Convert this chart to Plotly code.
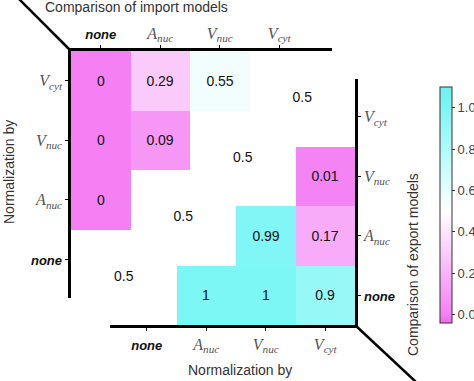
import plotly.graph_objects as go

# ---------------- data ----------------
categories = ["none", "A_nuc", "V_nuc", "V_cyt"]
tick_labels = [
    '<span style="font-family:Liberation Sans;font-weight:bold;font-size:13px;color:#111"><i>none</i></span>',
    "<i>A</i><sub><i>nuc</i></sub>",
    "<i>V</i><sub><i>nuc</i></sub>",
    "<i>V</i><sub><i>cyt</i></sub>",
]
# Import models (upper-left triangle); rows index: none, A_nuc, V_nuc, V_cyt
import_values = [
    [None, None, None, None],
    [0, None, None, None],
    [0, 0.09, None, None],
    [0, 0.29, 0.55, None],
]
# Export models (lower-right triangle)
export_values = [
    [None, 1, 1, 0.9],
    [None, None, 0.99, 0.17],
    [None, None, None, 0.01],
    [None, None, None, None],
]
diagonal_values = [0.5, 0.5, 0.5, 0.5]
colorbar_ticks = [0.0, 0.2, 0.4, 0.6, 0.8, 1.0]

# ---------------- layout helpers ----------------
W, H = 474, 381
CELL = 59.5
def dx(a, b):
    return [a / W, b / W]
def dy(top, bottom):
    return [1 - bottom / H, 1 - top / H]

idx = list(range(len(categories)))

def txt(z):
    return [["" if v is None else f"{v:g}" for v in row] for row in z]

cmin, cmax = -0.04, 1.1
def pos(v):
    return (v - cmin) / (cmax - cmin)
colorscale = [
    [0.0, "rgb(238,105,238)"],
    [pos(0.0), "rgb(244,128,244)"],
    [pos(0.5), "rgb(255,255,255)"],
    [pos(1.0), "rgb(125,246,246)"],
    [1.0, "rgb(112,240,240)"],
]

CELL_FONT = dict(family="Liberation Sans, Arial", size=14, color="#111")

fig = go.Figure()
fig.add_trace(go.Heatmap(
    z=import_values, x=idx, y=idx, text=txt(import_values), texttemplate="%{text}",
    textfont=CELL_FONT, coloraxis="coloraxis", xaxis="x", yaxis="y", hoverinfo="skip"))
fig.add_trace(go.Heatmap(
    z=export_values, x=idx, y=idx, text=txt(export_values), texttemplate="%{text}",
    textfont=CELL_FONT, coloraxis="coloraxis", xaxis="x2", yaxis="y2", hoverinfo="skip"))
fig.add_trace(go.Scatter(
    x=idx, y=idx, mode="text", text=[f"{v:g}" for v in diagonal_values],
    textfont=CELL_FONT, xaxis="x3", yaxis="y3", hoverinfo="skip", showlegend=False))

axis_common = dict(
    showgrid=False, zeroline=False, showline=True, linewidth=2.5, linecolor="black",
    ticks="outside", ticklen=3, tickwidth=1, tickcolor="black",
    tickmode="array", tickvals=idx, ticktext=tick_labels,
    tickfont=dict(family="Liberation Serif, DejaVu Serif", size=16, color="#555"),
    fixedrange=True, automargin=False,
)

TITLE_FONT = dict(family="Liberation Sans, Arial", size=14, color="#333")

fig.update_layout(
    width=W, height=H, margin=dict(l=0, r=0, t=0, b=0, autoexpand=False),
    paper_bgcolor="white", plot_bgcolor="rgba(0,0,0,0)", showlegend=False,
    xaxis=dict(axis_common, domain=dx(71, 332), range=[-0.5, -0.5 + (332 - 71) / CELL],
               side="top", anchor="y"),
    yaxis=dict(axis_common, domain=dy(51, 298), range=[3.5 - (298 - 51) / CELL, 3.5],
               side="left", anchor="x"),
    xaxis2=dict(axis_common, domain=dx(110, 355), range=[3.5 - (355 - 110) / CELL, 3.5],
                side="bottom", anchor="y2"),
    yaxis2=dict(axis_common, domain=dy(79, 325), range=[-0.5, -0.5 + (325 - 79) / CELL],
                side="right", anchor="x2"),
    xaxis3=dict(domain=dx(94, 332), range=[-0.5, 3.5], visible=False, anchor="y3",
                fixedrange=True, automargin=False),
    yaxis3=dict(domain=dy(69, 307), range=[-0.5, 3.5], visible=False, anchor="x3",
                fixedrange=True, automargin=False),
    coloraxis=dict(
        cmin=cmin, cmax=cmax, colorscale=colorscale,
        colorbar=dict(
            x=440 / W, xanchor="left", y=1 - 87 / H, yanchor="top",
            len=(323 - 87) / H, lenmode="fraction", thickness=12, thicknessmode="pixels",
            outlinewidth=1, outlinecolor="#333", xpad=0, ypad=0,
            tickmode="array", tickvals=colorbar_ticks,
            ticktext=[f"{v:.1f}" for v in colorbar_ticks],
            ticks="outside", ticklen=3, tickcolor="#333",
            tickfont=dict(family="Liberation Sans, Arial", size=13, color="#444"),
        ),
    ),
    shapes=[
        dict(type="line", xref="paper", yref="paper", x0=71 / W, y0=1 - 51 / H,
             x1=19 / W, y1=1 + 1 / H, line=dict(color="black", width=2.5)),
        dict(type="line", xref="paper", yref="paper", x0=355 / W, y0=1 - 325 / H,
             x1=416 / W, y1=1 - 382 / H, line=dict(color="black", width=2.5)),
    ],
    annotations=[
        dict(text="Comparison of import models", x=136 / W, y=1 - 7 / H, xref="paper",
             yref="paper", showarrow=False, xanchor="center", yanchor="middle",
             font=TITLE_FONT),
        dict(text="Normalization by", x=9 / W, y=1 - 172 / H, xref="paper", yref="paper",
             showarrow=False, textangle=-90, xanchor="center", yanchor="middle",
             font=TITLE_FONT),
        dict(text="Normalization by", x=240 / W, y=1 - 370 / H, xref="paper", yref="paper",
             showarrow=False, xanchor="center", yanchor="middle", font=TITLE_FONT),
        dict(text="Comparison of export models", x=413 / W, y=1 - 265 / H, xref="paper",
             yref="paper", showarrow=False, textangle=-90, xanchor="center",
             yanchor="middle", font=TITLE_FONT),
    ],
)

fig.write_html(
    "out.html",
    config={"displayModeBar": False},
    post_script="document.body.style.margin='0';document.body.style.overflow='hidden';",
)
